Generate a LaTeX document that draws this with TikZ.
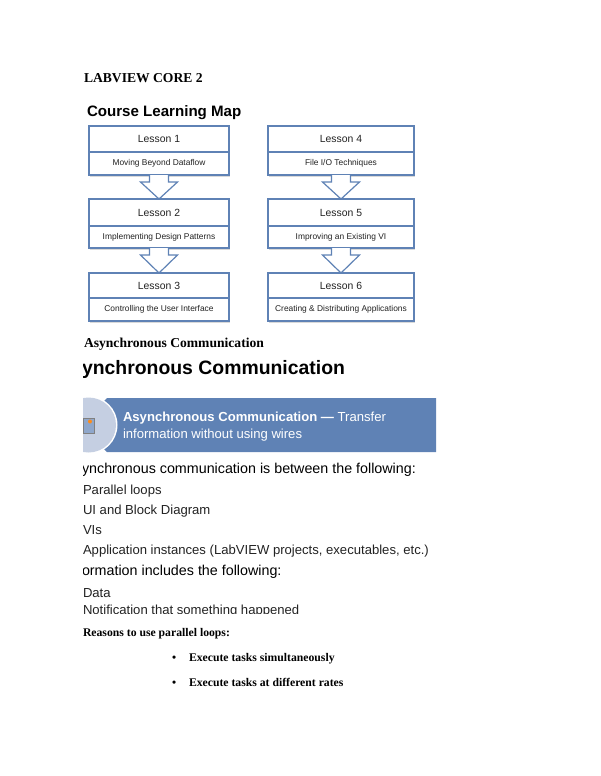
\documentclass[tikz,border=0pt]{standalone}
\usepackage{xcolor}
\usepackage{fontspec}
\usepackage{tikz}
\usetikzlibrary{calc}
\usetikzlibrary{shadows}
\setmainfont{Liberation Serif}
\newfontfamily\slidefont{Liberation Sans}
\definecolor{boxblue}{HTML}{5F82B5}
\definecolor{discblue}{HTML}{C5CFE2}
\definecolor{slidetext}{HTML}{222222}
\newcommand{\px}[1]{\fontsize{#1}{#1}\selectfont}
\tikzstyle{every node}=[inner sep=0pt, outer sep=0pt]
\tikzstyle{docline}=[anchor=west, font=\bfseries\px{13.6}, text=black]
\tikzstyle{docsmall}=[anchor=base west, font=\bfseries\px{11.7}, text=black]
\tikzstyle{slidehead}=[anchor=west, font=\slidefont\bfseries\px{19.4}, text=black]
\tikzstyle{slidelead}=[anchor=west, font=\slidefont\px{14.3}, text=black]
\tikzstyle{slideline}=[anchor=west, font=\slidefont\px{13.1}, text=slidetext]
\tikzstyle{bandline}=[anchor=west, font=\slidefont\px{13.1}, text=white]
\tikzstyle{titlebox}=[draw=boxblue, line width=1.2pt, fill=white, anchor=north west, minimum height=26, font=\slidefont\px{10.4}, text=slidetext, drop shadow={shadow xshift=.5pt, shadow yshift=-1.5pt, opacity=.3}]
\tikzstyle{subbox}=[titlebox, minimum height=23, font=\slidefont\px{8.4}]
\newcommand{\lessonarrow}[2]{\draw [boxblue, line width=1.2pt, fill=white] ($(#1.south)+(-9.5,0)$) -- ($(#1.south)+(-9.5,7)$) -- ($(#1.south)+(-18.5,7)$) -- (#2.north) -- ($(#1.south)+(18.5,7)$) -- ($(#1.south)+(9.5,7)$) -- ($(#1.south)+(9.5,0)$);}
\begin{document}
\begin{tikzpicture}[x=1pt, y=-1pt]
                \useasboundingbox (0, 0) rectangle (600, 776);
                \node [docline] (core) at (84, 78) {LABVIEW CORE 2};
                \node [anchor=west, font=\slidefont\bfseries\px{15.1}] (map) at (87, 113) {Course Learning Map};

                \node [titlebox, minimum width=140] (l1) at (89, 126) {Lesson 1};
                \node [subbox, minimum width=140] (m1) at (89, 152) {Moving Beyond Dataflow};
                \node [titlebox, minimum width=140, minimum height=27] (l2) at (89, 199) {Lesson 2};
                \node [subbox, minimum width=140, minimum height=22] (m2) at (89, 226) {Implementing Design Patterns};
                \node [titlebox, minimum width=140, minimum height=25] (l3) at (89, 273) {Lesson 3};
                \node [subbox, minimum width=140] (m3) at (89, 298) {Controlling the User Interface};

                \node [titlebox, minimum width=146] (l4) at (268, 126) {Lesson 4};
                \node [subbox, minimum width=146] (m4) at (268, 152) {File I/O Techniques};
                \node [titlebox, minimum width=146, minimum height=27] (l5) at (268, 199) {Lesson 5};
                \node [subbox, minimum width=146, minimum height=22] (m5) at (268, 226) {Improving an Existing VI};
                \node [titlebox, minimum width=146, minimum height=25] (l6) at (268, 273) {Lesson 6};
                \node [subbox, minimum width=146] (m6) at (268, 298) {Creating \& Distributing Applications};

                \lessonarrow{m1}{l2}
                \lessonarrow{m2}{l3}
                \lessonarrow{m4}{l5}
                \lessonarrow{m5}{l6}

                \node [docline] (async) at (84, 344) {Asynchronous Communication};

                \begin{scope}
                \clip (83, 350) rectangle (600, 613);
                \node [slidehead] (slide) at (82, 369) {ynchronous Communication};
                \fill [boxblue] (107, 398) -- (436, 398) -- (436, 452) -- (107, 452) -- (100, 445) -- (100, 405) -- cycle;
                \fill [white] (88.5, 425) circle (29);
                \fill [discblue] (88.5, 425) circle (27.5);
                \draw [gray, fill=boxblue!70] (83, 418) rectangle (94, 433);
                \fill [orange!90] (90, 421.5) circle (2);
                \node [bandline] (band1) at (123, 418.5) {\textbf{Asynchronous Communication —} Transfer};
                \node [bandline] (band2) at (123, 435) {information without using wires};
                \node [slidelead] (t1) at (82, 470) {ynchronous communication is between the following:};
                \node [slideline] (t2) at (83, 491) {Parallel loops};
                \node [slideline] (t3) at (83, 511) {UI and Block Diagram};
                \node [slideline] (t4) at (83, 530) {VIs};
                \node [slideline] (t5) at (83, 551) {Application instances (LabVIEW projects, executables, etc.)};
                \node [slidelead] (t6) at (82, 572) {ormation includes the following:};
                \node [slideline] (t7) at (83, 593) {Data};
                \node [slideline] (t8) at (83, 611) {Notification that something happened};
                \end{scope}

                \node [docsmall] (reasons) at (83, 636) {Reasons to use parallel loops:};
                \node [docsmall] (b1) at (172, 661) {\textbullet};
                \node [docsmall] (e1) at (189, 661) {Execute tasks simultaneously};
                \node [docsmall] (b2) at (172, 686) {\textbullet};
                \node [docsmall] (e2) at (189, 686) {Execute tasks at different rates};
            \end{tikzpicture}
\end{document}
